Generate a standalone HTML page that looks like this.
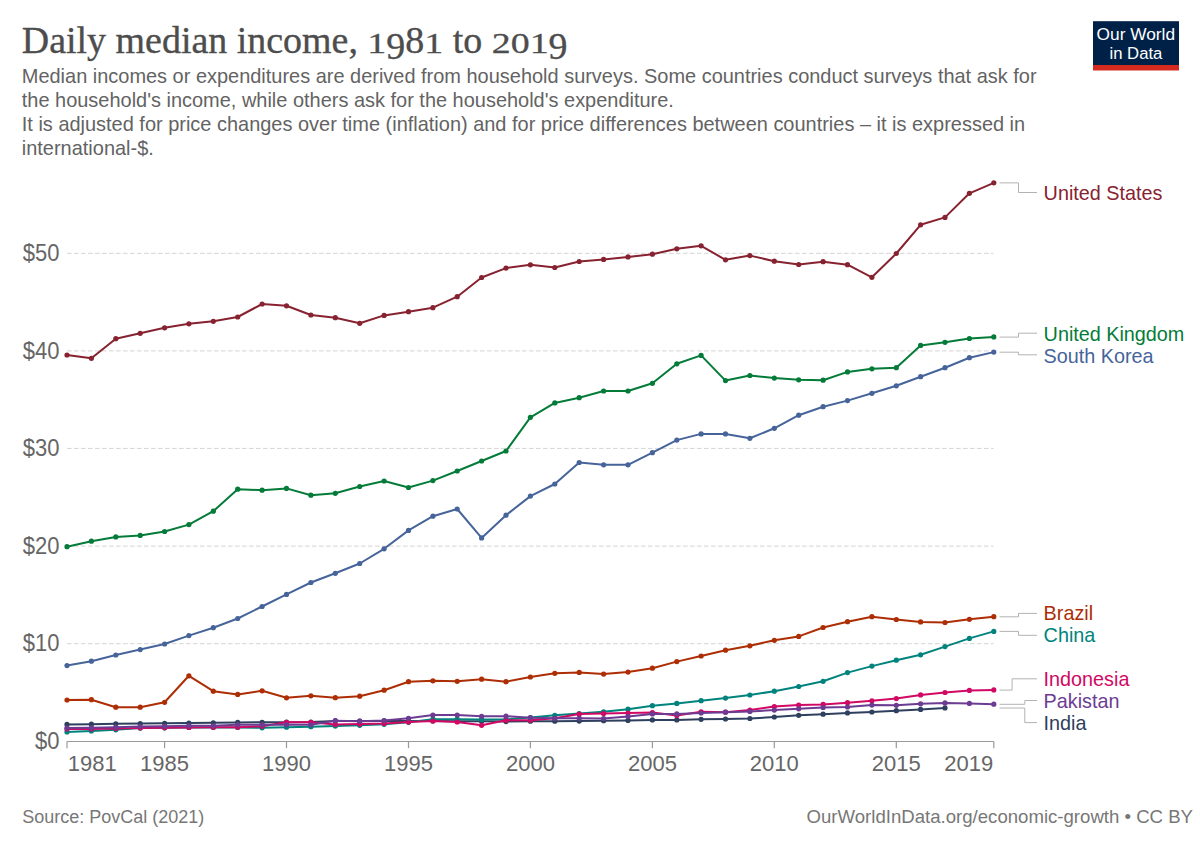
<!DOCTYPE html>
<html><head><meta charset="utf-8"><title>Daily median income, 1981 to 2019</title>
<style>
html,body{margin:0;padding:0;background:#fff;}
body{width:1200px;height:847px;position:relative;overflow:hidden;font-family:"Liberation Sans",sans-serif;}
svg{display:block;}
</style></head><body>
<svg width="1200" height="847" style="position:absolute;left:0;top:0">
<line x1="67" y1="253.3" x2="993.5" y2="253.3" stroke="#d4d4d4" stroke-width="1" stroke-dasharray="4.6,2.4"/>
<line x1="67" y1="350.9" x2="993.5" y2="350.9" stroke="#d4d4d4" stroke-width="1" stroke-dasharray="4.6,2.4"/>
<line x1="67" y1="448.4" x2="993.5" y2="448.4" stroke="#d4d4d4" stroke-width="1" stroke-dasharray="4.6,2.4"/>
<line x1="67" y1="546.1" x2="993.5" y2="546.1" stroke="#d4d4d4" stroke-width="1" stroke-dasharray="4.6,2.4"/>
<line x1="67" y1="643.7" x2="993.5" y2="643.7" stroke="#d4d4d4" stroke-width="1" stroke-dasharray="4.6,2.4"/>
<text x="0" y="0" transform="translate(59.5,260.90) scale(1,1.07)" text-anchor="end" font-family="Liberation Sans, sans-serif" font-size="22" fill="#666">$50</text>
<text x="0" y="0" transform="translate(59.5,358.50) scale(1,1.07)" text-anchor="end" font-family="Liberation Sans, sans-serif" font-size="22" fill="#666">$40</text>
<text x="0" y="0" transform="translate(59.5,456.00) scale(1,1.07)" text-anchor="end" font-family="Liberation Sans, sans-serif" font-size="22" fill="#666">$30</text>
<text x="0" y="0" transform="translate(59.5,553.70) scale(1,1.07)" text-anchor="end" font-family="Liberation Sans, sans-serif" font-size="22" fill="#666">$20</text>
<text x="0" y="0" transform="translate(59.5,651.30) scale(1,1.07)" text-anchor="end" font-family="Liberation Sans, sans-serif" font-size="22" fill="#666">$10</text>
<text x="0" y="0" transform="translate(59.5,749.10) scale(1,1.07)" text-anchor="end" font-family="Liberation Sans, sans-serif" font-size="22" fill="#666">$0</text>
<line x1="67" y1="741.5" x2="993.8" y2="741.5" stroke="#9a9a9a" stroke-width="1.2"/>
<line x1="67.0" y1="741.5" x2="67.0" y2="748.2" stroke="#9a9a9a" stroke-width="1.2"/>
<text x="67.8" y="771.2" text-anchor="start" font-family="Liberation Sans, sans-serif" font-size="22" fill="#666">1981</text>
<line x1="164.6" y1="741.5" x2="164.6" y2="748.2" stroke="#9a9a9a" stroke-width="1.2"/>
<text x="164.6" y="771.2" text-anchor="middle" font-family="Liberation Sans, sans-serif" font-size="22" fill="#666">1985</text>
<line x1="286.5" y1="741.5" x2="286.5" y2="748.2" stroke="#9a9a9a" stroke-width="1.2"/>
<text x="286.5" y="771.2" text-anchor="middle" font-family="Liberation Sans, sans-serif" font-size="22" fill="#666">1990</text>
<line x1="408.5" y1="741.5" x2="408.5" y2="748.2" stroke="#9a9a9a" stroke-width="1.2"/>
<text x="408.5" y="771.2" text-anchor="middle" font-family="Liberation Sans, sans-serif" font-size="22" fill="#666">1995</text>
<line x1="530.4" y1="741.5" x2="530.4" y2="748.2" stroke="#9a9a9a" stroke-width="1.2"/>
<text x="530.4" y="771.2" text-anchor="middle" font-family="Liberation Sans, sans-serif" font-size="22" fill="#666">2000</text>
<line x1="652.4" y1="741.5" x2="652.4" y2="748.2" stroke="#9a9a9a" stroke-width="1.2"/>
<text x="652.4" y="771.2" text-anchor="middle" font-family="Liberation Sans, sans-serif" font-size="22" fill="#666">2005</text>
<line x1="774.3" y1="741.5" x2="774.3" y2="748.2" stroke="#9a9a9a" stroke-width="1.2"/>
<text x="774.3" y="771.2" text-anchor="middle" font-family="Liberation Sans, sans-serif" font-size="22" fill="#666">2010</text>
<line x1="896.3" y1="741.5" x2="896.3" y2="748.2" stroke="#9a9a9a" stroke-width="1.2"/>
<text x="896.3" y="771.2" text-anchor="middle" font-family="Liberation Sans, sans-serif" font-size="22" fill="#666">2015</text>
<line x1="993.8" y1="741.5" x2="993.8" y2="748.2" stroke="#9a9a9a" stroke-width="1.2"/>
<text x="993.3" y="771.2" text-anchor="end" font-family="Liberation Sans, sans-serif" font-size="22" fill="#666">2019</text>
<polyline points="67.0,355.0 91.4,358.3 115.8,338.7 140.2,333.3 164.6,327.8 188.9,323.8 213.3,321.3 237.7,317.0 262.1,304.0 286.5,305.8 310.9,315.0 335.3,317.7 359.7,323.3 384.1,315.4 408.5,311.7 432.9,307.7 457.2,296.7 481.6,277.5 506.0,268.1 530.4,264.8 554.8,267.5 579.2,261.5 603.6,259.4 628.0,256.9 652.4,254.2 676.8,248.8 701.1,245.8 725.5,259.8 749.9,255.6 774.3,261.2 798.7,264.5 823.1,261.7 847.5,264.7 871.9,277.3 896.3,253.5 920.6,224.8 945.0,217.4 969.4,193.3 993.8,182.8" fill="none" stroke="#872230" stroke-width="2.0" stroke-linejoin="round" stroke-linecap="round"/><g fill="#872230"><circle cx="67.0" cy="355.0" r="2.6"/><circle cx="91.4" cy="358.3" r="2.6"/><circle cx="115.8" cy="338.7" r="2.6"/><circle cx="140.2" cy="333.3" r="2.6"/><circle cx="164.6" cy="327.8" r="2.6"/><circle cx="188.9" cy="323.8" r="2.6"/><circle cx="213.3" cy="321.3" r="2.6"/><circle cx="237.7" cy="317.0" r="2.6"/><circle cx="262.1" cy="304.0" r="2.6"/><circle cx="286.5" cy="305.8" r="2.6"/><circle cx="310.9" cy="315.0" r="2.6"/><circle cx="335.3" cy="317.7" r="2.6"/><circle cx="359.7" cy="323.3" r="2.6"/><circle cx="384.1" cy="315.4" r="2.6"/><circle cx="408.5" cy="311.7" r="2.6"/><circle cx="432.9" cy="307.7" r="2.6"/><circle cx="457.2" cy="296.7" r="2.6"/><circle cx="481.6" cy="277.5" r="2.6"/><circle cx="506.0" cy="268.1" r="2.6"/><circle cx="530.4" cy="264.8" r="2.6"/><circle cx="554.8" cy="267.5" r="2.6"/><circle cx="579.2" cy="261.5" r="2.6"/><circle cx="603.6" cy="259.4" r="2.6"/><circle cx="628.0" cy="256.9" r="2.6"/><circle cx="652.4" cy="254.2" r="2.6"/><circle cx="676.8" cy="248.8" r="2.6"/><circle cx="701.1" cy="245.8" r="2.6"/><circle cx="725.5" cy="259.8" r="2.6"/><circle cx="749.9" cy="255.6" r="2.6"/><circle cx="774.3" cy="261.2" r="2.6"/><circle cx="798.7" cy="264.5" r="2.6"/><circle cx="823.1" cy="261.7" r="2.6"/><circle cx="847.5" cy="264.7" r="2.6"/><circle cx="871.9" cy="277.3" r="2.6"/><circle cx="896.3" cy="253.5" r="2.6"/><circle cx="920.6" cy="224.8" r="2.6"/><circle cx="945.0" cy="217.4" r="2.6"/><circle cx="969.4" cy="193.3" r="2.6"/><circle cx="993.8" cy="182.8" r="2.6"/></g>
<polyline points="67.0,546.7 91.4,541.2 115.8,536.9 140.2,535.4 164.6,531.5 188.9,524.6 213.3,511.2 237.7,489.2 262.1,490.2 286.5,488.4 310.9,495.2 335.3,493.3 359.7,486.5 384.1,481.0 408.5,487.5 432.9,480.6 457.2,471.0 481.6,461.0 506.0,451.0 530.4,417.3 554.8,402.9 579.2,397.7 603.6,391.0 628.0,391.0 652.4,383.3 676.8,363.8 701.1,355.4 725.5,380.6 749.9,375.5 774.3,378.1 798.7,379.8 823.1,380.2 847.5,371.9 871.9,368.8 896.3,367.7 920.6,345.4 945.0,342.3 969.4,338.5 993.8,336.9" fill="none" stroke="#047b38" stroke-width="2.0" stroke-linejoin="round" stroke-linecap="round"/><g fill="#047b38"><circle cx="67.0" cy="546.7" r="2.6"/><circle cx="91.4" cy="541.2" r="2.6"/><circle cx="115.8" cy="536.9" r="2.6"/><circle cx="140.2" cy="535.4" r="2.6"/><circle cx="164.6" cy="531.5" r="2.6"/><circle cx="188.9" cy="524.6" r="2.6"/><circle cx="213.3" cy="511.2" r="2.6"/><circle cx="237.7" cy="489.2" r="2.6"/><circle cx="262.1" cy="490.2" r="2.6"/><circle cx="286.5" cy="488.4" r="2.6"/><circle cx="310.9" cy="495.2" r="2.6"/><circle cx="335.3" cy="493.3" r="2.6"/><circle cx="359.7" cy="486.5" r="2.6"/><circle cx="384.1" cy="481.0" r="2.6"/><circle cx="408.5" cy="487.5" r="2.6"/><circle cx="432.9" cy="480.6" r="2.6"/><circle cx="457.2" cy="471.0" r="2.6"/><circle cx="481.6" cy="461.0" r="2.6"/><circle cx="506.0" cy="451.0" r="2.6"/><circle cx="530.4" cy="417.3" r="2.6"/><circle cx="554.8" cy="402.9" r="2.6"/><circle cx="579.2" cy="397.7" r="2.6"/><circle cx="603.6" cy="391.0" r="2.6"/><circle cx="628.0" cy="391.0" r="2.6"/><circle cx="652.4" cy="383.3" r="2.6"/><circle cx="676.8" cy="363.8" r="2.6"/><circle cx="701.1" cy="355.4" r="2.6"/><circle cx="725.5" cy="380.6" r="2.6"/><circle cx="749.9" cy="375.5" r="2.6"/><circle cx="774.3" cy="378.1" r="2.6"/><circle cx="798.7" cy="379.8" r="2.6"/><circle cx="823.1" cy="380.2" r="2.6"/><circle cx="847.5" cy="371.9" r="2.6"/><circle cx="871.9" cy="368.8" r="2.6"/><circle cx="896.3" cy="367.7" r="2.6"/><circle cx="920.6" cy="345.4" r="2.6"/><circle cx="945.0" cy="342.3" r="2.6"/><circle cx="969.4" cy="338.5" r="2.6"/><circle cx="993.8" cy="336.9" r="2.6"/></g>
<polyline points="67.0,665.6 91.4,661.2 115.8,655.0 140.2,649.6 164.6,644.0 188.9,635.6 213.3,627.7 237.7,618.5 262.1,606.5 286.5,594.4 310.9,582.5 335.3,573.3 359.7,563.5 384.1,548.8 408.5,530.4 432.9,516.2 457.2,509.0 481.6,537.9 506.0,515.2 530.4,496.1 554.8,484.0 579.2,462.5 603.6,464.8 628.0,464.8 652.4,452.7 676.8,440.1 701.1,433.9 725.5,433.9 749.9,438.3 774.3,428.3 798.7,415.2 823.1,406.7 847.5,400.6 871.9,393.3 896.3,385.8 920.6,376.7 945.0,367.7 969.4,357.7 993.8,352.1" fill="none" stroke="#46649a" stroke-width="2.0" stroke-linejoin="round" stroke-linecap="round"/><g fill="#46649a"><circle cx="67.0" cy="665.6" r="2.6"/><circle cx="91.4" cy="661.2" r="2.6"/><circle cx="115.8" cy="655.0" r="2.6"/><circle cx="140.2" cy="649.6" r="2.6"/><circle cx="164.6" cy="644.0" r="2.6"/><circle cx="188.9" cy="635.6" r="2.6"/><circle cx="213.3" cy="627.7" r="2.6"/><circle cx="237.7" cy="618.5" r="2.6"/><circle cx="262.1" cy="606.5" r="2.6"/><circle cx="286.5" cy="594.4" r="2.6"/><circle cx="310.9" cy="582.5" r="2.6"/><circle cx="335.3" cy="573.3" r="2.6"/><circle cx="359.7" cy="563.5" r="2.6"/><circle cx="384.1" cy="548.8" r="2.6"/><circle cx="408.5" cy="530.4" r="2.6"/><circle cx="432.9" cy="516.2" r="2.6"/><circle cx="457.2" cy="509.0" r="2.6"/><circle cx="481.6" cy="537.9" r="2.6"/><circle cx="506.0" cy="515.2" r="2.6"/><circle cx="530.4" cy="496.1" r="2.6"/><circle cx="554.8" cy="484.0" r="2.6"/><circle cx="579.2" cy="462.5" r="2.6"/><circle cx="603.6" cy="464.8" r="2.6"/><circle cx="628.0" cy="464.8" r="2.6"/><circle cx="652.4" cy="452.7" r="2.6"/><circle cx="676.8" cy="440.1" r="2.6"/><circle cx="701.1" cy="433.9" r="2.6"/><circle cx="725.5" cy="433.9" r="2.6"/><circle cx="749.9" cy="438.3" r="2.6"/><circle cx="774.3" cy="428.3" r="2.6"/><circle cx="798.7" cy="415.2" r="2.6"/><circle cx="823.1" cy="406.7" r="2.6"/><circle cx="847.5" cy="400.6" r="2.6"/><circle cx="871.9" cy="393.3" r="2.6"/><circle cx="896.3" cy="385.8" r="2.6"/><circle cx="920.6" cy="376.7" r="2.6"/><circle cx="945.0" cy="367.7" r="2.6"/><circle cx="969.4" cy="357.7" r="2.6"/><circle cx="993.8" cy="352.1" r="2.6"/></g>
<polyline points="67.0,700.0 91.4,699.7 115.8,707.2 140.2,707.2 164.6,702.3 188.9,675.8 213.3,691.2 237.7,694.4 262.1,690.8 286.5,697.8 310.9,695.8 335.3,697.7 359.7,696.2 384.1,690.2 408.5,681.7 432.9,680.8 457.2,681.3 481.6,679.2 506.0,681.7 530.4,677.0 554.8,673.3 579.2,672.4 603.6,674.1 628.0,672.1 652.4,668.2 676.8,661.6 701.1,656.0 725.5,650.2 749.9,645.8 774.3,640.3 798.7,636.4 823.1,627.5 847.5,621.7 871.9,616.7 896.3,619.5 920.6,621.9 945.0,622.5 969.4,619.3 993.8,616.7" fill="none" stroke="#ad2d04" stroke-width="2.0" stroke-linejoin="round" stroke-linecap="round"/><g fill="#ad2d04"><circle cx="67.0" cy="700.0" r="2.6"/><circle cx="91.4" cy="699.7" r="2.6"/><circle cx="115.8" cy="707.2" r="2.6"/><circle cx="140.2" cy="707.2" r="2.6"/><circle cx="164.6" cy="702.3" r="2.6"/><circle cx="188.9" cy="675.8" r="2.6"/><circle cx="213.3" cy="691.2" r="2.6"/><circle cx="237.7" cy="694.4" r="2.6"/><circle cx="262.1" cy="690.8" r="2.6"/><circle cx="286.5" cy="697.8" r="2.6"/><circle cx="310.9" cy="695.8" r="2.6"/><circle cx="335.3" cy="697.7" r="2.6"/><circle cx="359.7" cy="696.2" r="2.6"/><circle cx="384.1" cy="690.2" r="2.6"/><circle cx="408.5" cy="681.7" r="2.6"/><circle cx="432.9" cy="680.8" r="2.6"/><circle cx="457.2" cy="681.3" r="2.6"/><circle cx="481.6" cy="679.2" r="2.6"/><circle cx="506.0" cy="681.7" r="2.6"/><circle cx="530.4" cy="677.0" r="2.6"/><circle cx="554.8" cy="673.3" r="2.6"/><circle cx="579.2" cy="672.4" r="2.6"/><circle cx="603.6" cy="674.1" r="2.6"/><circle cx="628.0" cy="672.1" r="2.6"/><circle cx="652.4" cy="668.2" r="2.6"/><circle cx="676.8" cy="661.6" r="2.6"/><circle cx="701.1" cy="656.0" r="2.6"/><circle cx="725.5" cy="650.2" r="2.6"/><circle cx="749.9" cy="645.8" r="2.6"/><circle cx="774.3" cy="640.3" r="2.6"/><circle cx="798.7" cy="636.4" r="2.6"/><circle cx="823.1" cy="627.5" r="2.6"/><circle cx="847.5" cy="621.7" r="2.6"/><circle cx="871.9" cy="616.7" r="2.6"/><circle cx="896.3" cy="619.5" r="2.6"/><circle cx="920.6" cy="621.9" r="2.6"/><circle cx="945.0" cy="622.5" r="2.6"/><circle cx="969.4" cy="619.3" r="2.6"/><circle cx="993.8" cy="616.7" r="2.6"/></g>
<polyline points="67.0,724.4 91.4,724.2 115.8,723.8 140.2,723.6 164.6,723.3 188.9,723.0 213.3,722.8 237.7,722.4 262.1,722.3 286.5,722.2 310.9,722.0 335.3,720.9 359.7,721.0 384.1,720.9 408.5,720.9 432.9,721.0 457.2,721.2 481.6,721.3 506.0,721.6 530.4,721.2 554.8,721.2 579.2,721.1 603.6,720.7 628.0,720.4 652.4,719.9 676.8,719.9 701.1,719.3 725.5,719.0 749.9,718.5 774.3,717.0 798.7,715.3 823.1,714.2 847.5,712.9 871.9,712.0 896.3,710.7 920.6,709.4 945.0,707.9" fill="none" stroke="#2e405e" stroke-width="2.0" stroke-linejoin="round" stroke-linecap="round"/><g fill="#2e405e"><circle cx="67.0" cy="724.4" r="2.6"/><circle cx="91.4" cy="724.2" r="2.6"/><circle cx="115.8" cy="723.8" r="2.6"/><circle cx="140.2" cy="723.6" r="2.6"/><circle cx="164.6" cy="723.3" r="2.6"/><circle cx="188.9" cy="723.0" r="2.6"/><circle cx="213.3" cy="722.8" r="2.6"/><circle cx="237.7" cy="722.4" r="2.6"/><circle cx="262.1" cy="722.3" r="2.6"/><circle cx="286.5" cy="722.2" r="2.6"/><circle cx="310.9" cy="722.0" r="2.6"/><circle cx="335.3" cy="720.9" r="2.6"/><circle cx="359.7" cy="721.0" r="2.6"/><circle cx="384.1" cy="720.9" r="2.6"/><circle cx="408.5" cy="720.9" r="2.6"/><circle cx="432.9" cy="721.0" r="2.6"/><circle cx="457.2" cy="721.2" r="2.6"/><circle cx="481.6" cy="721.3" r="2.6"/><circle cx="506.0" cy="721.6" r="2.6"/><circle cx="530.4" cy="721.2" r="2.6"/><circle cx="554.8" cy="721.2" r="2.6"/><circle cx="579.2" cy="721.1" r="2.6"/><circle cx="603.6" cy="720.7" r="2.6"/><circle cx="628.0" cy="720.4" r="2.6"/><circle cx="652.4" cy="719.9" r="2.6"/><circle cx="676.8" cy="719.9" r="2.6"/><circle cx="701.1" cy="719.3" r="2.6"/><circle cx="725.5" cy="719.0" r="2.6"/><circle cx="749.9" cy="718.5" r="2.6"/><circle cx="774.3" cy="717.0" r="2.6"/><circle cx="798.7" cy="715.3" r="2.6"/><circle cx="823.1" cy="714.2" r="2.6"/><circle cx="847.5" cy="712.9" r="2.6"/><circle cx="871.9" cy="712.0" r="2.6"/><circle cx="896.3" cy="710.7" r="2.6"/><circle cx="920.6" cy="709.4" r="2.6"/><circle cx="945.0" cy="707.9" r="2.6"/></g>
<polyline points="67.0,731.9 91.4,731.0 115.8,729.8 140.2,728.1 164.6,727.8 188.9,727.5 213.3,727.5 237.7,727.5 262.1,727.8 286.5,727.2 310.9,726.7 335.3,726.1 359.7,725.3 384.1,724.3 408.5,722.3 432.9,719.2 457.2,719.2 481.6,719.5 506.0,719.5 530.4,717.5 554.8,715.3 579.2,713.5 603.6,711.8 628.0,709.2 652.4,705.7 676.8,703.4 701.1,700.7 725.5,698.1 749.9,695.0 774.3,691.2 798.7,686.5 823.1,681.3 847.5,672.6 871.9,666.1 896.3,660.2 920.6,654.8 945.0,646.6 969.4,638.4 993.8,631.4" fill="none" stroke="#00837d" stroke-width="2.0" stroke-linejoin="round" stroke-linecap="round"/><g fill="#00837d"><circle cx="67.0" cy="731.9" r="2.6"/><circle cx="91.4" cy="731.0" r="2.6"/><circle cx="115.8" cy="729.8" r="2.6"/><circle cx="140.2" cy="728.1" r="2.6"/><circle cx="164.6" cy="727.8" r="2.6"/><circle cx="188.9" cy="727.5" r="2.6"/><circle cx="213.3" cy="727.5" r="2.6"/><circle cx="237.7" cy="727.5" r="2.6"/><circle cx="262.1" cy="727.8" r="2.6"/><circle cx="286.5" cy="727.2" r="2.6"/><circle cx="310.9" cy="726.7" r="2.6"/><circle cx="335.3" cy="726.1" r="2.6"/><circle cx="359.7" cy="725.3" r="2.6"/><circle cx="384.1" cy="724.3" r="2.6"/><circle cx="408.5" cy="722.3" r="2.6"/><circle cx="432.9" cy="719.2" r="2.6"/><circle cx="457.2" cy="719.2" r="2.6"/><circle cx="481.6" cy="719.5" r="2.6"/><circle cx="506.0" cy="719.5" r="2.6"/><circle cx="530.4" cy="717.5" r="2.6"/><circle cx="554.8" cy="715.3" r="2.6"/><circle cx="579.2" cy="713.5" r="2.6"/><circle cx="603.6" cy="711.8" r="2.6"/><circle cx="628.0" cy="709.2" r="2.6"/><circle cx="652.4" cy="705.7" r="2.6"/><circle cx="676.8" cy="703.4" r="2.6"/><circle cx="701.1" cy="700.7" r="2.6"/><circle cx="725.5" cy="698.1" r="2.6"/><circle cx="749.9" cy="695.0" r="2.6"/><circle cx="774.3" cy="691.2" r="2.6"/><circle cx="798.7" cy="686.5" r="2.6"/><circle cx="823.1" cy="681.3" r="2.6"/><circle cx="847.5" cy="672.6" r="2.6"/><circle cx="871.9" cy="666.1" r="2.6"/><circle cx="896.3" cy="660.2" r="2.6"/><circle cx="920.6" cy="654.8" r="2.6"/><circle cx="945.0" cy="646.6" r="2.6"/><circle cx="969.4" cy="638.4" r="2.6"/><circle cx="993.8" cy="631.4" r="2.6"/></g>
<polyline points="67.0,729.0 91.4,729.0 115.8,728.5 140.2,728.0 164.6,727.8 188.9,727.5 213.3,727.3 237.7,727.2 262.1,726.2 286.5,722.3 310.9,722.3 335.3,724.5 359.7,724.1 384.1,723.4 408.5,722.0 432.9,721.0 457.2,722.0 481.6,725.3 506.0,720.3 530.4,720.3 554.8,718.3 579.2,714.0 603.6,713.5 628.0,713.0 652.4,712.5 676.8,715.6 701.1,711.8 725.5,712.2 749.9,710.0 774.3,706.6 798.7,705.1 823.1,704.4 847.5,702.7 871.9,700.8 896.3,698.6 920.6,694.9 945.0,692.5 969.4,690.4 993.8,689.9" fill="none" stroke="#d10864" stroke-width="2.0" stroke-linejoin="round" stroke-linecap="round"/><g fill="#d10864"><circle cx="67.0" cy="729.0" r="2.6"/><circle cx="91.4" cy="729.0" r="2.6"/><circle cx="115.8" cy="728.5" r="2.6"/><circle cx="140.2" cy="728.0" r="2.6"/><circle cx="164.6" cy="727.8" r="2.6"/><circle cx="188.9" cy="727.5" r="2.6"/><circle cx="213.3" cy="727.3" r="2.6"/><circle cx="237.7" cy="727.2" r="2.6"/><circle cx="262.1" cy="726.2" r="2.6"/><circle cx="286.5" cy="722.3" r="2.6"/><circle cx="310.9" cy="722.3" r="2.6"/><circle cx="335.3" cy="724.5" r="2.6"/><circle cx="359.7" cy="724.1" r="2.6"/><circle cx="384.1" cy="723.4" r="2.6"/><circle cx="408.5" cy="722.0" r="2.6"/><circle cx="432.9" cy="721.0" r="2.6"/><circle cx="457.2" cy="722.0" r="2.6"/><circle cx="481.6" cy="725.3" r="2.6"/><circle cx="506.0" cy="720.3" r="2.6"/><circle cx="530.4" cy="720.3" r="2.6"/><circle cx="554.8" cy="718.3" r="2.6"/><circle cx="579.2" cy="714.0" r="2.6"/><circle cx="603.6" cy="713.5" r="2.6"/><circle cx="628.0" cy="713.0" r="2.6"/><circle cx="652.4" cy="712.5" r="2.6"/><circle cx="676.8" cy="715.6" r="2.6"/><circle cx="701.1" cy="711.8" r="2.6"/><circle cx="725.5" cy="712.2" r="2.6"/><circle cx="749.9" cy="710.0" r="2.6"/><circle cx="774.3" cy="706.6" r="2.6"/><circle cx="798.7" cy="705.1" r="2.6"/><circle cx="823.1" cy="704.4" r="2.6"/><circle cx="847.5" cy="702.7" r="2.6"/><circle cx="871.9" cy="700.8" r="2.6"/><circle cx="896.3" cy="698.6" r="2.6"/><circle cx="920.6" cy="694.9" r="2.6"/><circle cx="945.0" cy="692.5" r="2.6"/><circle cx="969.4" cy="690.4" r="2.6"/><circle cx="993.8" cy="689.9" r="2.6"/></g>
<polyline points="67.0,727.9 91.4,727.8 115.8,727.2 140.2,726.6 164.6,726.3 188.9,725.8 213.3,725.8 237.7,724.8 262.1,724.8 286.5,724.8 310.9,724.8 335.3,720.7 359.7,721.2 384.1,720.5 408.5,718.3 432.9,715.0 457.2,715.0 481.6,716.3 506.0,716.2 530.4,717.7 554.8,718.3 579.2,718.2 603.6,718.5 628.0,716.4 652.4,713.9 676.8,713.9 701.1,713.0 725.5,712.2 749.9,711.5 774.3,710.1 798.7,708.8 823.1,707.5 847.5,707.0 871.9,705.1 896.3,705.3 920.6,703.8 945.0,702.9 969.4,703.4 993.8,704.2" fill="none" stroke="#6c3c92" stroke-width="2.0" stroke-linejoin="round" stroke-linecap="round"/><g fill="#6c3c92"><circle cx="67.0" cy="727.9" r="2.6"/><circle cx="91.4" cy="727.8" r="2.6"/><circle cx="115.8" cy="727.2" r="2.6"/><circle cx="140.2" cy="726.6" r="2.6"/><circle cx="164.6" cy="726.3" r="2.6"/><circle cx="188.9" cy="725.8" r="2.6"/><circle cx="213.3" cy="725.8" r="2.6"/><circle cx="237.7" cy="724.8" r="2.6"/><circle cx="262.1" cy="724.8" r="2.6"/><circle cx="286.5" cy="724.8" r="2.6"/><circle cx="310.9" cy="724.8" r="2.6"/><circle cx="335.3" cy="720.7" r="2.6"/><circle cx="359.7" cy="721.2" r="2.6"/><circle cx="384.1" cy="720.5" r="2.6"/><circle cx="408.5" cy="718.3" r="2.6"/><circle cx="432.9" cy="715.0" r="2.6"/><circle cx="457.2" cy="715.0" r="2.6"/><circle cx="481.6" cy="716.3" r="2.6"/><circle cx="506.0" cy="716.2" r="2.6"/><circle cx="530.4" cy="717.7" r="2.6"/><circle cx="554.8" cy="718.3" r="2.6"/><circle cx="579.2" cy="718.2" r="2.6"/><circle cx="603.6" cy="718.5" r="2.6"/><circle cx="628.0" cy="716.4" r="2.6"/><circle cx="652.4" cy="713.9" r="2.6"/><circle cx="676.8" cy="713.9" r="2.6"/><circle cx="701.1" cy="713.0" r="2.6"/><circle cx="725.5" cy="712.2" r="2.6"/><circle cx="749.9" cy="711.5" r="2.6"/><circle cx="774.3" cy="710.1" r="2.6"/><circle cx="798.7" cy="708.8" r="2.6"/><circle cx="823.1" cy="707.5" r="2.6"/><circle cx="847.5" cy="707.0" r="2.6"/><circle cx="871.9" cy="705.1" r="2.6"/><circle cx="896.3" cy="705.3" r="2.6"/><circle cx="920.6" cy="703.8" r="2.6"/><circle cx="945.0" cy="702.9" r="2.6"/><circle cx="969.4" cy="703.4" r="2.6"/><circle cx="993.8" cy="704.2" r="2.6"/></g>
<polyline points="999.5,182.9 1018.5,182.9 1018.5,192.5 1037,192.5" fill="none" stroke="#b2b2b2" stroke-width="1"/>
<polyline points="999.5,337.1 1018.5,337.1 1018.5,333.2 1037,333.2" fill="none" stroke="#b2b2b2" stroke-width="1"/>
<polyline points="999.5,352.2 1018.5,352.2 1018.5,354.8 1037,354.8" fill="none" stroke="#b2b2b2" stroke-width="1"/>
<polyline points="999.5,616.8 1018.5,616.8 1018.5,613.4 1037,613.4" fill="none" stroke="#b2b2b2" stroke-width="1"/>
<polyline points="999.5,631.4 1018.5,631.4 1018.5,635.3 1037,635.3" fill="none" stroke="#b2b2b2" stroke-width="1"/>
<polyline points="999.5,690.1 1012.1,690.1 1012.1,678.8 1037,678.8" fill="none" stroke="#b2b2b2" stroke-width="1"/>
<polyline points="999.5,704.3 1024.8,704.3 1024.8,700.5 1037,700.5" fill="none" stroke="#b2b2b2" stroke-width="1"/>
<polyline points="999.5,708.0 1024.8,708.0 1024.8,722.6 1037,722.6" fill="none" stroke="#b2b2b2" stroke-width="1"/>
<text x="1043.6" y="199.7" font-family="Liberation Sans, sans-serif" font-size="19.8" fill="#872230">United States</text>
<text x="1043.6" y="340.5" font-family="Liberation Sans, sans-serif" font-size="19.8" fill="#047b38">United Kingdom</text>
<text x="1043.6" y="362.9" font-family="Liberation Sans, sans-serif" font-size="19.8" fill="#46649a">South Korea</text>
<text x="1043.6" y="620.2" font-family="Liberation Sans, sans-serif" font-size="19.8" fill="#ad2d04">Brazil</text>
<text x="1043.6" y="641.6" font-family="Liberation Sans, sans-serif" font-size="19.8" fill="#00837d">China</text>
<text x="1043.6" y="685.6" font-family="Liberation Sans, sans-serif" font-size="19.8" fill="#d10864">Indonesia</text>
<text x="1043.6" y="707.7" font-family="Liberation Sans, sans-serif" font-size="19.8" fill="#6c3c92">Pakistan</text>
<text x="1043.6" y="729.6" font-family="Liberation Sans, sans-serif" font-size="19.8" fill="#2e405e">India</text>
<text x="21.8" y="52.7" font-family="Liberation Serif, serif" font-size="37.95" fill="#4d4d4d" text-anchor="start" stroke="#4d4d4d" stroke-width="0.35">Daily median income, <tspan fill-opacity="0" stroke-opacity="0">1981</tspan> to <tspan fill-opacity="0" stroke-opacity="0">2019</tspan></text>
<text x="0" y="0" transform="translate(367.35,52.70) scale(1,0.780)" font-family="Liberation Serif, serif" font-size="37.95" fill="#4d4d4d" stroke="#4d4d4d" stroke-width="0.35">1</text>
<text x="0" y="0" transform="translate(386.32,58.50) scale(1,1.000)" font-family="Liberation Serif, serif" font-size="37.95" fill="#4d4d4d" stroke="#4d4d4d" stroke-width="0.35">9</text>
<text x="0" y="0" transform="translate(405.28,52.70) scale(1,1.000)" font-family="Liberation Serif, serif" font-size="37.95" fill="#4d4d4d" stroke="#4d4d4d" stroke-width="0.35">8</text>
<text x="0" y="0" transform="translate(424.25,52.70) scale(1,0.780)" font-family="Liberation Serif, serif" font-size="37.95" fill="#4d4d4d" stroke="#4d4d4d" stroke-width="0.35">1</text>
<text x="0" y="0" transform="translate(491.69,52.70) scale(1,0.770)" font-family="Liberation Serif, serif" font-size="37.95" fill="#4d4d4d" stroke="#4d4d4d" stroke-width="0.35">2</text>
<text x="0" y="0" transform="translate(510.66,52.70) scale(1,0.770)" font-family="Liberation Serif, serif" font-size="37.95" fill="#4d4d4d" stroke="#4d4d4d" stroke-width="0.35">0</text>
<text x="0" y="0" transform="translate(529.63,52.70) scale(1,0.780)" font-family="Liberation Serif, serif" font-size="37.95" fill="#4d4d4d" stroke="#4d4d4d" stroke-width="0.35">1</text>
<text x="0" y="0" transform="translate(548.60,58.50) scale(1,1.000)" font-family="Liberation Serif, serif" font-size="37.95" fill="#4d4d4d" stroke="#4d4d4d" stroke-width="0.35">9</text>
<text x="21.8" y="82.9" font-family="Liberation Sans, sans-serif" font-size="19.97" fill="#636363" text-anchor="start" >Median incomes or expenditures are derived from household surveys. Some countries conduct surveys that ask for</text>
<text x="21.8" y="107.0" font-family="Liberation Sans, sans-serif" font-size="19.97" fill="#636363" text-anchor="start" >the household&#39;s income, while others ask for the household&#39;s expenditure.</text>
<text x="21.8" y="131.0" font-family="Liberation Sans, sans-serif" font-size="19.97" fill="#636363" text-anchor="start" >It is adjusted for price changes over time (inflation) and for price differences between countries – it is expressed in</text>
<text x="21.8" y="155.4" font-family="Liberation Sans, sans-serif" font-size="19.97" fill="#636363" text-anchor="start" >international-$.</text>
<text x="22.2" y="823.0" font-family="Liberation Sans, sans-serif" font-size="18" fill="#777" text-anchor="start" >Source: PovCal (2021)</text>
<text x="1193.0" y="823.0" font-family="Liberation Sans, sans-serif" font-size="18.6" fill="#777" text-anchor="end" >OurWorldInData.org/economic-growth • CC BY</text>
<rect x="1093" y="21.2" width="86" height="44.5" fill="#002147"/><rect x="1093" y="65" width="86" height="5.5" fill="#d62a1e"/>
<text x="1135.8" y="40.2" font-family="Liberation Sans, sans-serif" font-size="17.3" fill="#fff" text-anchor="middle" >Our World</text>
<text x="1135.9" y="59.4" font-family="Liberation Sans, sans-serif" font-size="16.7" fill="#fff" text-anchor="middle" >in Data</text>
</svg>
</body></html>
